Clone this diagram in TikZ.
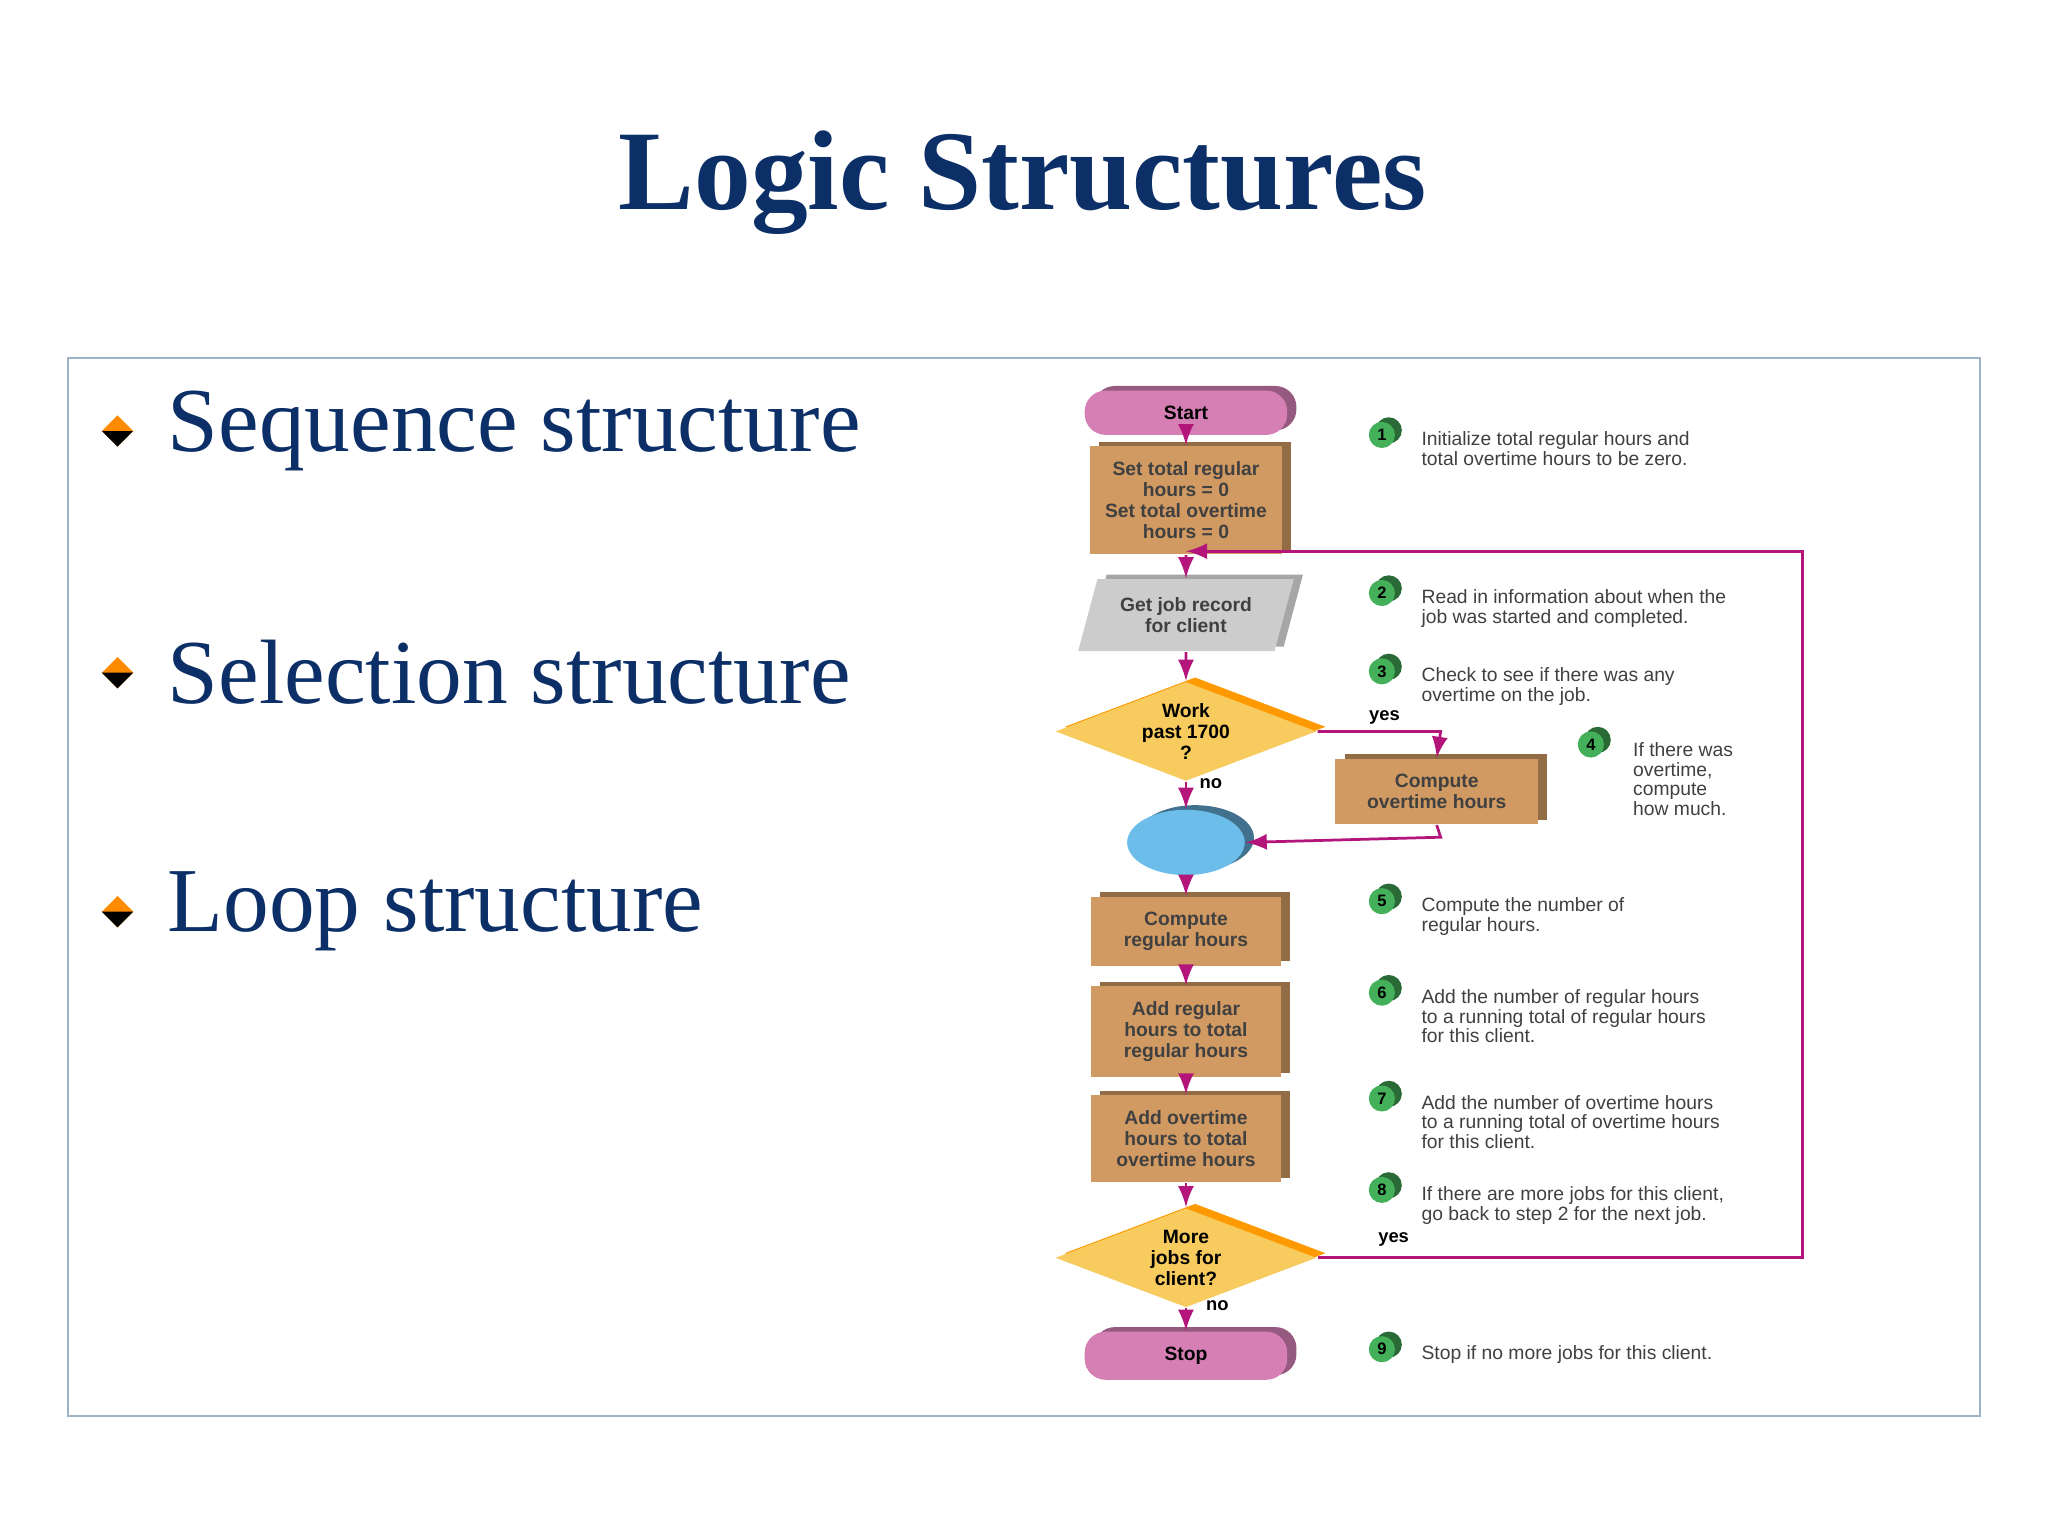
\documentclass[tikz,border=0pt]{standalone}
\usepackage{fontspec}
\setmainfont{Liberation Serif}
\setsansfont{Liberation Sans}
\usetikzlibrary{shapes.geometric, shadows, arrows, positioning}
\definecolor{navy}{HTML}{0B2F66}
\definecolor{tan}{HTML}{D19A62}
\definecolor{termpink}{HTML}{D67FB5}
\definecolor{dyellow}{HTML}{F7CB5E}
\definecolor{cblue}{HTML}{6DBDEB}
\definecolor{stepgreen}{HTML}{45B05A}
\definecolor{flowarrow}{HTML}{B3157A}
\definecolor{framec}{HTML}{9DB3C8}

\begin{document}
\begin{tikzpicture}[
      x=0.01cm, y=-0.01cm,
      bullet/.style={
          anchor=west,
          font=\fontsize{19.9}{23}\selectfont,
          text=navy
        },
      proc/.style={
          rectangle,
          fill=tan,
          align=center,
          minimum width=1.45cm,
          font=\sffamily\bfseries\fontsize{4.2}{4.6}\selectfont,
          text=black!75,
          general shadow={fill=tan!70!black, shadow xshift=2pt, shadow yshift=1pt}
        },
      term/.style={
          rectangle,
          rounded corners=0.16cm,
          fill=termpink,
          minimum width=1.55cm,
          minimum height=0.32cm,
          font=\sffamily\bfseries\fontsize{4.2}{4.6}\selectfont,
          general shadow={fill=termpink!70!black, shadow xshift=2pt, shadow yshift=1pt}
        },
      decide/.style={
          diamond,
          aspect=2.6,
          fill=dyellow,
          inner sep=0pt,
          minimum width=2cm,
          minimum height=0.76cm,
          align=center,
          font=\sffamily\bfseries\fontsize{4.2}{4.6}\selectfont,
          general shadow={fill=orange!80!yellow, shadow xshift=2pt, shadow yshift=1pt}
        },
      badge/.style={
          circle,
          fill=stepgreen,
          minimum size=0.2cm,
          inner sep=0pt,
          font=\sffamily\bfseries\fontsize{3.6}{4}\selectfont,
          general shadow={fill=stepgreen!60!black, shadow xshift=1.5pt, shadow yshift=1pt}
        },
      note/.style={
          anchor=west,
          align=left,
          font=\sffamily\fontsize{4.2}{4.3}\selectfont,
          text=black!75
        },
      tag/.style={
          font=\sffamily\bfseries\fontsize{4}{4.4}\selectfont
        },
      arrow/.style={
          -latex,
          draw=flowarrow,
          semithick
        }
    ]
    \useasboundingbox (0,0) rectangle (1568,1176);

    % Title and frame
    \node[font=\bfseries\fontsize{24.7}{28}\selectfont, text=navy] (title) at (783,140) {Logic Structures};
    \draw[framec] (52,274) rectangle (1516,1084);

    % Bullets
    \foreach \y/\t in {330/Sequence structure, 515/Selection structure, 698/Loop structure}{
      \fill[orange!90!yellow] (78,\y) -- (90,\y-12) -- (102,\y) -- (90,\y+12) -- cycle;
      \fill[black] (78,\y) -- (102,\y) -- (90,\y+12) -- cycle;
      \node[bullet] at (116,\y) {\t};
    }

    % Nodes
    \node[term] (start) at (908,316) {Start};
    \node[proc, minimum height=0.6cm] (init) at (908,383) {Set total regular\\hours = 0\\Set total overtime\\hours = 0};
    \node[trapezium, trapezium left angle=75, trapezium right angle=105, fill=black!20,
          minimum width=1.5cm, minimum height=0.55cm, align=center, text=black!75,
          font=\sffamily\bfseries\fontsize{4.2}{4.6}\selectfont,
          general shadow={fill=black!35, shadow xshift=2pt, shadow yshift=1pt}] (read) at (908,471) {Get job record\\for client};
    \node[decide] (work) at (908,560) {Work\\past 1700\\?};
    \node[proc, minimum width=1.55cm, minimum height=0.45cm] (overtime) at (1100,606) {Compute\\overtime hours};
    \node[ellipse, fill=cblue, minimum width=0.9cm, minimum height=0.5cm,
          general shadow={fill=cblue!60!black, shadow xshift=2pt, shadow yshift=1pt}] (join) at (908,645) {};
    \node[proc, minimum height=0.45cm] (regular) at (908,713) {Compute\\regular hours};
    \node[proc, minimum height=0.62cm] (addreg) at (908,790) {Add regular\\hours to total\\regular hours};
    \node[proc, minimum height=0.62cm] (addot) at (908,872) {Add overtime\\hours to total\\overtime hours};
    \node[decide] (more) at (908,963) {More\\jobs for\\client?};
    \node[term] (stop) at (908,1038) {Stop};

    \coordinate (loopA) at (1380,963);
    \coordinate (loopB) at (1380,422);
    \coordinate (loopC) at (908,422);
    \coordinate (yesA) at (1103,560);
    \coordinate (otB) at (1103,641);

    % Arrows
    \draw[arrow] (start) -- (init);
    \draw[arrow] (init) -- (read);
    \draw[arrow] (read) -- (work);
    \draw[arrow] (work.east) -- (yesA) -- (overtime.north);
    \draw[arrow] (overtime.south) -- (otB) -- (join.east);
    \draw[arrow] (work) -- (join);
    \draw[arrow] (join) -- (regular);
    \draw[arrow] (regular) -- (addreg);
    \draw[arrow] (addreg) -- (addot);
    \draw[arrow] (addot) -- (more);
    \draw[arrow] (more) -- (stop);
    \draw[arrow] (more.east) -- (loopA) -- (loopB) -- (loopC);

    \node[tag] (yes1) at (1060,549) {yes};
    \node[tag] (no1) at (927,600) {no};
    \node[tag] (yes2) at (1067,949) {yes};
    \node[tag] (no2) at (932,1000) {no};

    % Steps
    \foreach \n/\y/\t in {
        1/333/{Initialize total regular hours and\\total overtime hours to be zero.},
        2/454/{Read in information about when the\\job was started and completed.},
        3/514/{Check to see if there was any\\overtime on the job.},
        5/690/{Compute the number of\\regular hours.},
        6/760/{Add the number of regular hours\\to a running total of regular hours\\for this client.},
        7/841/{Add the number of overtime hours\\to a running total of overtime hours\\for this client.},
        8/911/{If there are more jobs for this client,\\go back to step 2 for the next job.},
        9/1033/{Stop if no more jobs for this client.}}{
      \node[badge] (s\n) at (1058,\y) {\n};
      \node[note, anchor=north west] (t\n) at (1076,\y-15) {\t};
    }
    \node[badge] (s4) at (1218,570) {4};
    \node[note, anchor=north west] (t4) at (1238,556) {If there was\\overtime,\\compute\\how much.};

  \end{tikzpicture}
\end{document}
